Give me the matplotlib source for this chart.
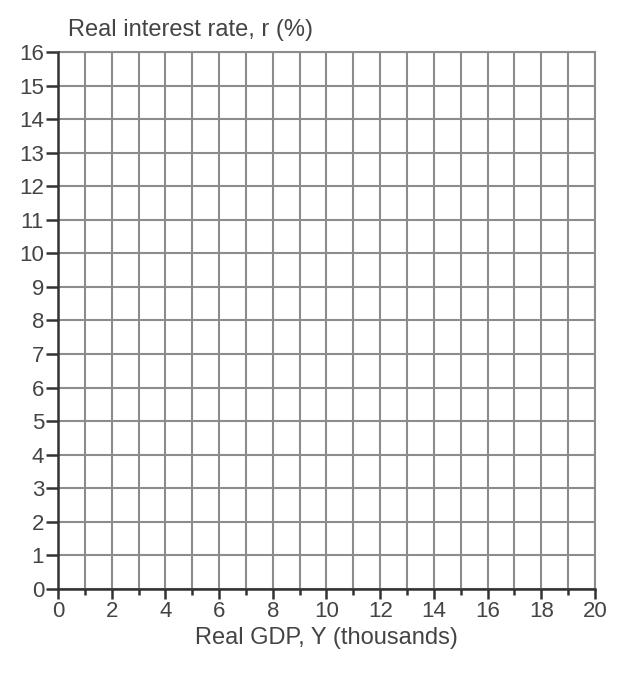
import numpy as np
import matplotlib.pyplot as plt
from matplotlib.ticker import MultipleLocator

plt.rcParams['font.family'] = ['Liberation Sans', 'DejaVu Sans']

# axis ranges and ticks
x_range = [0, 20]
y_range = [0, 16]
x_major = list(range(0, 21, 2))
y_major = list(range(0, 17, 1))
x_label = "Real GDP, Y (thousands)"
y_label = "Real interest rate, r (%)"

text_color = "#444444"
grid_color = "#8c8c8c"
axis_color = "#333333"

fig = plt.figure(figsize=(6.36, 6.86), dpi=100)
ax = fig.add_axes([0.0912, 0.1414, 0.8443, 0.7828])

ax.set_xlim(x_range)
ax.set_ylim(y_range)
ax.set_xticks(x_major)
ax.set_yticks(y_major)
ax.xaxis.set_minor_locator(MultipleLocator(1))

# grid every unit
ax.grid(which="both", color=grid_color, linewidth=1.5)
ax.set_axisbelow(True)

for side in ["top", "right"]:
    ax.spines[side].set_color(grid_color)
    ax.spines[side].set_linewidth(1.5)
for side in ["left", "bottom"]:
    ax.spines[side].set_color(axis_color)
    ax.spines[side].set_linewidth(1.8)
    ax.spines[side].set_zorder(5)

ax.tick_params(axis="x", which="major", length=7, width=1.8, color=axis_color,
               labelsize=16, labelcolor=text_color, pad=2)
ax.tick_params(axis="x", which="minor", length=4, width=1.8, color=axis_color)
ax.tick_params(axis="y", which="major", length=9, width=1.8, color=axis_color,
               labelsize=16, labelcolor=text_color, pad=1)

fig.text(0.107, 0.956, y_label, fontsize=17, color=text_color, va="center", ha="left")
fig.text(0.513, 0.070, x_label, fontsize=17, color=text_color, va="center", ha="center")

fig.savefig("out.png", dpi=100)
